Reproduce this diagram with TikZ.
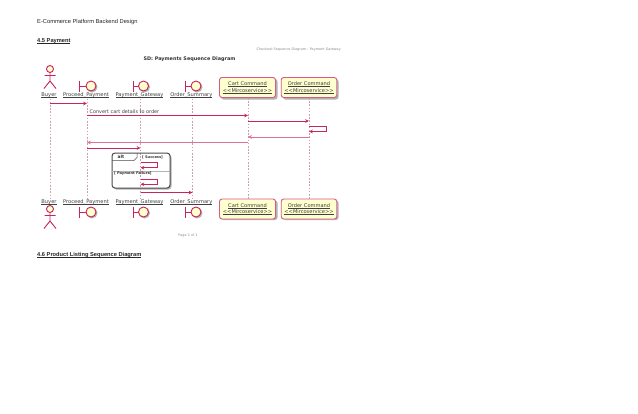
\documentclass[tikz,border=0pt]{standalone}
\usepackage{fontspec}
\setmainfont{Liberation Sans}
\newfontfamily\umlfont{DejaVu Sans}
\usetikzlibrary{arrows.meta}
\definecolor{uml}{HTML}{C8245F}
\definecolor{umlfill}{HTML}{FEFECE}
\newcommand\ulx[1]{\setbox0\hbox{#1}\rlap{\rule[-.75pt]{\wd0}{.3pt}}\box0}
\tikzset{
 x=1pt,y=-1pt,
 pagetext/.style={font=\fontsize{5.75}{6.5}\selectfont,text=black!85,inner sep=0,anchor=west},
 pagehead/.style={font=\fontsize{5.7}{6.5}\selectfont\bfseries,text=black!85,inner sep=0,anchor=west},
 lbl/.style={font=\umlfont\fontsize{5.15}{6}\selectfont,text=black!75,inner sep=0},
 msglbl/.style={font=\umlfont\fontsize{4.9}{6}\selectfont,text=black!75,inner sep=0,anchor=west},
 guard/.style={font=\umlfont\bfseries\fontsize{3.6}{4.5}\selectfont,text=black!80,inner sep=0,anchor=west},
 greytext/.style={font=\umlfont\fontsize{3.4}{4.5}\selectfont,text=black!45,inner sep=0},
 part/.style={draw=uml!75,line width=.9pt,fill=umlfill,rounded corners=2.5pt,align=center,minimum width=55.5pt,minimum height=20pt,inner sep=0,font=\umlfont\fontsize{5.1}{6.6}\selectfont,text=black!75},
 shadowbox/.style={fill=black!30,draw=none,rounded corners=2.5pt},
 life/.style={draw=uml!60!gray!55,line width=.5pt,dash pattern=on 1.6pt off 1.6pt},
 msg/.style={draw=uml,line width=1pt,-{Stealth[length=3.8pt,width=3.6pt]}},
 ret/.style={draw=uml!65,line width=.75pt,-{Stealth[length=3.8pt,width=3.6pt]}},
 sym/.style={draw=uml,line width=.9pt},
 symfill/.style={draw=uml,line width=.9pt,fill=umlfill},
 frame/.style={draw=black!70,line width=1pt,rounded corners=3pt}
}
\begin{document}
\begin{tikzpicture}
\useasboundingbox[fill=white] (0,0) rectangle (638,413);
% page text
\node[pagetext] (doc) at (37,22) {E-Commerce Platform Backend Design};
\node[pagehead] (sec1) at (37,41) {\ulx{4.5 Payment}};
\node[pagehead] (sec2) at (37,255.5) {\ulx{4.6 Product Listing Sequence Diagram}};
\node[greytext,anchor=east] (hdr) at (341,49.5) {Checkout Sequence Diagram : Payment Gateway};
\node[greytext] (pg) at (188,235.5) {Page 1 of 1};
\node[font=\umlfont\bfseries\fontsize{4.9}{6}\selectfont,text=black!80,inner sep=0] (ttl) at (189.5,59) {SD: Payments Sequence Diagram};
% top labels
\node[lbl] (buyerT) at (49,95) {\ulx{Buyer}};
\node[lbl] (procT) at (86,95) {\ulx{Proceed\_Payment}};
\node[lbl] (payT) at (139.5,95) {\ulx{Payment\_Gateway}};
\node[lbl] (sumT) at (191.3,95) {\ulx{Order\_Summary}};
% bottom labels
\node[lbl] (buyerB) at (49,202.5) {\ulx{Buyer}};
\node[lbl] (procB) at (86,202.5) {\ulx{Proceed\_Payment}};
\node[lbl] (payB) at (139.5,202.5) {\ulx{Payment\_Gateway}};
\node[lbl] (sumB) at (191.3,202.5) {\ulx{Order\_Summary}};
% shadows for participant boxes
\fill[shadowbox] (221,79) rectangle (277.5,99.5);
\fill[shadowbox] (283,79) rectangle (338.5,99.5);
\fill[shadowbox] (221,200.5) rectangle (277.5,220);
\fill[shadowbox] (283,200.5) rectangle (338.5,220);
% participant boxes
\node[part,minimum width=56pt] (cartT) at (247.5,87.5) {\ulx{Cart Command}\\\ulx{<{}<Mircoservice>{}>}};
\node[part] (ordT) at (309,87.5) {\ulx{Order Command}\\\ulx{<{}<Mircoservice>{}>}};
\node[part,minimum width=56pt] (cartB) at (247.5,209) {\ulx{Cart Command}\\\ulx{<{}<Mircoservice>{}>}};
\node[part] (ordB) at (309,209) {\ulx{Order Command}\\\ulx{<{}<Mircoservice>{}>}};
% lifeline x references
\coordinate (lB) at (50,0);
\coordinate (lP) at (87,0);
\coordinate (lG) at (140.5,0);
\coordinate (lS) at (192.5,0);
\coordinate (lC) at (248,0);
\coordinate (lO) at (309,0);
\coordinate (yt) at (0,98.5);
\coordinate (yb) at (0,198.5);
\draw[life] (lB |- yt) -- (lB |- yb);
\draw[life] (lP |- yt) -- (lP |- yb);
\draw[life] (lG |- yt) -- (lG |- yb);
\draw[life] (lS |- yt) -- (lS |- yb);
\draw[life] (lC |- cartT.south) -- (lC |- cartB.north);
\draw[life] (lO |- ordT.south) -- (lO |- ordB.north);
% actors
\foreach \cy in {69,209}{
 \draw[sym] (50,\cy+3.5) -- (50,\cy+12) (44.5,\cy+6.5) -- (55.5,\cy+6.5)
   (50,\cy+12) -- (44,\cy+19.5) (50,\cy+12) -- (56,\cy+19.5);
 \draw[symfill] (50,\cy) circle[radius=3.5];
}
% boundaries
\foreach \bx/\cx in {79/91,133/143.5,185/196}{
 \foreach \cy in {86,212}{
  \fill[black!30] (\cx+1,\cy+1) circle[radius=5.5];
  \draw[sym] (\bx,\cy-5.5) -- (\bx,\cy+5.5) (\bx,\cy) -- (\cx-5,\cy);
  \draw[symfill] (\cx,\cy) circle[radius=5];
 }
}
% messages
\coordinate (m1) at (0,103.5);
\coordinate (m2) at (0,115.5);
\coordinate (m3) at (0,121);
\coordinate (m4a) at (0,126.7);
\coordinate (m4b) at (0,131.5);
\coordinate (m5) at (0,137);
\coordinate (m6) at (0,142.5);
\coordinate (m7) at (0,148);
\coordinate (m8a) at (0,162.7);
\coordinate (m8b) at (0,167.7);
\coordinate (m9a) at (0,179.3);
\coordinate (m9b) at (0,184.3);
\coordinate (m10) at (0,192.5);
\coordinate (xO) at (326,0);
\coordinate (xG) at (157.7,0);
\draw[msg] (lB |- m1) -- (lP |- m1);
\node[msglbl] (conv) at (89.5,111.5) {Convert cart details to order};
\draw[msg] (lP |- m2) -- (lC |- m2);
\draw[msg] (lC |- m3) -- (lO |- m3);
\draw[msg] (lO |- m4a) -- (xO |- m4a) -- (xO |- m4b) -- (lO |- m4b);
\draw[ret] (lO |- m5) -- (lC |- m5);
\draw[ret] (lC |- m6) -- (lP |- m6);
\draw[msg] (lP |- m7) -- (lG |- m7);
% alt frame
\fill[black!30,rounded corners=3pt] (113.5,154.5) rectangle (171.5,189.5);
\fill[white,rounded corners=3pt] (112,153) rectangle (170,188);
\draw[life] (lG |- 0,153) -- (lG |- 0,188);
\draw[frame] (112,153) rectangle (170,188);
\draw[draw=black!70,line width=.5pt] (112,160.5) -- (134,160.5) -- (137,157.5) -- (137,153);
\node[font=\umlfont\bfseries\fontsize{4.4}{5}\selectfont,text=black!80,inner sep=0] (altl) at (121,157) {alt};
\node[guard] (g1) at (142,157) {[ Success]};
\draw[draw=black!30,line width=.4pt] (112,171.5) -- (170,171.5);
\node[guard] (g2) at (114,174) {[ Payment Failure]};
\draw[msg] (lG |- m8a) -- (xG |- m8a) -- (xG |- m8b) -- (lG |- m8b);
\draw[msg] (lG |- m9a) -- (xG |- m9a) -- (xG |- m9b) -- (lG |- m9b);
\draw[msg] (lG |- m10) -- (lS |- m10);
\end{tikzpicture}
\end{document}
